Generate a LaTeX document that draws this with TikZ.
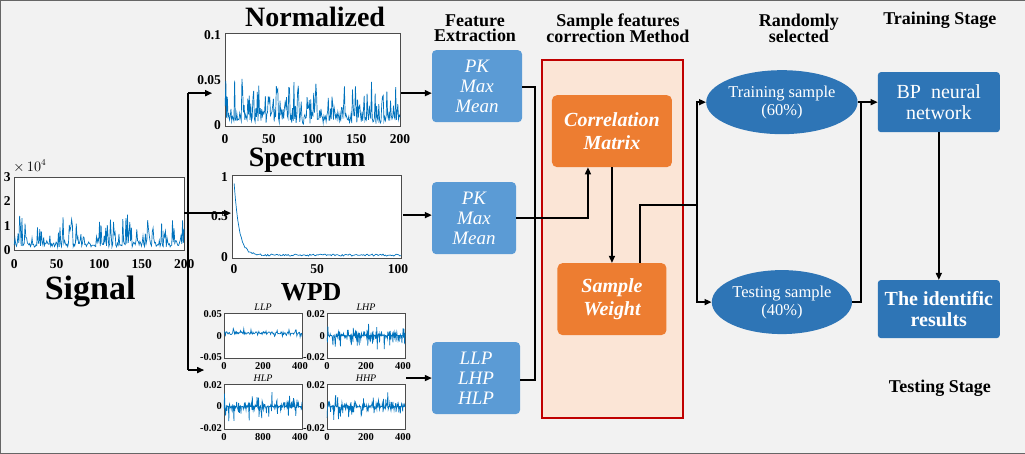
\documentclass[tikz,border=0pt]{standalone}
\usepackage{fontspec}
\setmainfont{Liberation Serif}
\usetikzlibrary{shapes.geometric,arrows.meta}
\definecolor{bg}{RGB}{242,242,242}
\definecolor{lblue}{RGB}{91,155,213}
\definecolor{dblue}{RGB}{46,117,182}
\definecolor{orng}{RGB}{237,125,49}
\definecolor{peach}{RGB}{251,229,214}
\definecolor{redb}{RGB}{192,0,0}
\definecolor{pline}{RGB}{0,114,189}
\tikzset{
  fbox/.style={draw=none,fill=lblue,rounded corners=4pt,text=white,font=\fontsize{19}{20}\selectfont\itshape,align=center,minimum width=88pt,minimum height=72pt,inner sep=0},
  obox/.style={fill=orng,rounded corners=5pt,text=white,font=\fontsize{20}{23}\selectfont\bfseries\itshape,align=center,inner sep=0},
  ell/.style={ellipse,fill=dblue,text=white,font=\fontsize{16.5}{18}\selectfont,align=center,minimum width=136pt,minimum height=64pt,inner sep=0},
  dbox/.style={fill=dblue,rounded corners=3pt,text=white,align=center,minimum width=122pt,inner sep=0},
  conn/.style={line width=1.5pt,-{Triangle[length=7pt,width=6pt]}},
  seg/.style={line width=1.5pt},
  ttl/.style={font=\fontsize{28}{30}\selectfont\bfseries},
  hdr/.style={font=\fontsize{18}{19}\selectfont\bfseries,align=center},
  tk/.style={font=\fontsize{13.5}{13.5}\selectfont\bfseries,inner sep=1pt},
  stk/.style={font=\fontsize{10.5}{10.5}\selectfont\bfseries,inner sep=1pt},
  axb/.style={draw=black!70,fill=white,line width=0.6pt},
  pl/.style={pline,line width=0.7pt},
}
\begin{document}
\begin{tikzpicture}[x=1pt,y=-1pt]
\path[use as bounding box,fill=bg,draw=black!60] (0,0) rectangle (1025,453);
\pgfmathsetseed{7}
% ===== Signal plot
\draw[axb] (14,177) rectangle (184,250);
\draw[pl] plot[domain=14:184,samples=220] (\x,{247-30*rnd^4-4*rnd});
\node[tk] at (7,177) {3}; \node[tk,anchor=west] at (12,166) {$\times\,10^4$};
\node[tk] at (7,201) {2}; \node[tk] at (7,226) {1}; \node[tk] at (7,250) {0};
\foreach \v [count=\i from 0] in {0,50,100,150,200} \node[tk] at (14+\i*42.5,264) {\v};
\node[font=\fontsize{34}{36}\selectfont\bfseries] (sig) at (90,291) {Signal};
% ===== Normalized plot
\node[ttl] at (315,17) {Normalized};
\draw[axb] (225,33) rectangle (400,126);
\draw[pl] plot[domain=225:400,samples=240] (\x,{124-40*rnd^3-8*rnd});
\node[tk,anchor=east] at (222,35) {0.1}; \node[tk,anchor=east] at (222,80) {0.05}; \node[tk,anchor=east] at (222,125) {0};
\foreach \v [count=\i from 0] in {0,50,100,150,200} \node[tk] at (225+\i*43.75,139) {\v};
% ===== Spectrum plot
\node[ttl] at (307,160) {Spectrum};
\draw[axb] (232,175) rectangle (401,258);
\draw[pl] plot[domain=234:401,samples=140] (\x,{256-72*exp(-(\x-234)/5)-2*rnd});
\node[tk,anchor=east] at (229,177) {1}; \node[tk,anchor=east] at (229,216) {0.5}; \node[tk,anchor=east] at (229,257) {0};
\node[tk] at (234,269) {0}; \node[tk] at (317,269) {50}; \node[tk] at (398,269) {100};
% ===== WPD
\node[font=\fontsize{26}{28}\selectfont\bfseries] at (311,292) {WPD};
\foreach \xa/\ya/\nm/\ampl/\tt/\bt/\lb in {224/313/LLP/0/0.05/-0.05/200, 327/313/LHP/1/0.02/-0.02/200, 224/384/HLP/1/0.02/-0.02/800, 327/384/HHP/1/0.02/-0.02/200}{
  \draw[axb] (\xa,\ya) rectangle ++(78,45);
  \node[font=\fontsize{10}{10}\selectfont\itshape,inner sep=0] at (\xa+39,\ya-6) {\nm};
  \ifnum\ampl=0
    \draw[pl] plot[domain=\xa:\xa+78,samples=120] (\x,{\ya+21-5*rand*rnd^2-2*rnd});
  \else
    \draw[pl] plot[domain=\xa:\xa+78,samples=200] (\x,{\ya+22.5+17*rand*rnd^2.5});
  \fi
  \node[stk,anchor=east] at (\xa-1,\ya+1) {\tt};
  \node[stk,anchor=east] at (\xa-1,\ya+22.5) {0};
  \node[stk,anchor=east] at (\xa-1,\ya+44) {\bt};
  \node[stk] at (\xa,\ya+53) {0}; \node[stk] at (\xa+39,\ya+53) {\lb}; \node[stk] at (\xa+76,\ya+53) {400};
}
% ===== headers
\node[hdr] at (475,28) {Feature\\[-3pt]Extraction};
\node[hdr] at (618,28) {Sample features\\[-3pt]correction Method};
\node[hdr] at (799,28) {Randomly\\[-3pt]selected};
\node[hdr] at (940,20) {Training Stage};
\node[hdr] at (940,388) {Testing Stage};
% ===== feature boxes
\node[fbox,minimum width=90pt] (f1) at (477,86) {PK\\Max\\Mean};
\node[fbox,minimum width=84pt] (f2) at (474,218) {PK\\Max\\Mean};
\node[fbox] (f3) at (476,378) {LLP\\LHP\\HLP};
% ===== correction region
\draw[redb,fill=peach,line width=1.5pt] (542,60) rectangle (683,418);
\node[obox,minimum width=120pt,minimum height=72pt] (cm) at (612,131) {Correlation\\Matrix};
\node[obox,minimum width=109pt,minimum height=72pt] (sw) at (612,299) {Sample\\Weight};
% ===== ellipses and right boxes
\node[ell] (tr) at (782,102) {Training sample\\(60\%)};
\node[ell] (te) at (782,302) {Testing sample\\(40\%)};
\node[dbox,minimum height=60pt,font=\fontsize{20}{22}\selectfont] (bp) at (939,102) {BP \ neural\\network};
\node[dbox,minimum height=58pt,font=\fontsize{20}{22}\selectfont\bfseries] (res) at (939,309) {The identific\\results};
% ===== connectors
\coordinate (j) at (188,213);
\draw[seg] (184,213) -- (j);
\draw[conn] (188,93) -- (212,93); \draw[seg] (188,93) -- (188,370);
\draw[conn] (j) -- (231,213);
\draw[conn] (188,370) -- (204,370);
\draw[conn] (401,93) -- (f1.west|-0,93);
\draw[conn] (403,215) -- (f2.west|-0,215);
\draw[conn] (406,378) -- (f3.west);
\draw[seg] (f1.east|-0,87) -| (535,380) -- (f3.east|-0,380);
\draw[conn] (f2.east) -| (cm.south-|588,0);
\draw[conn] (cm.south) -- (sw.north);
\draw[seg] (sw.north-|640,0) |- (697,205);
\draw[conn] (697,205) |- (tr.west);
\draw[conn] (697,205) |- (te.west);
\draw[conn] (tr.east) -- (bp.west);
\draw[seg] (te.east) -| (861,102);
\draw[conn] (bp.south) -- (res.north);
\end{tikzpicture}
\end{document}
